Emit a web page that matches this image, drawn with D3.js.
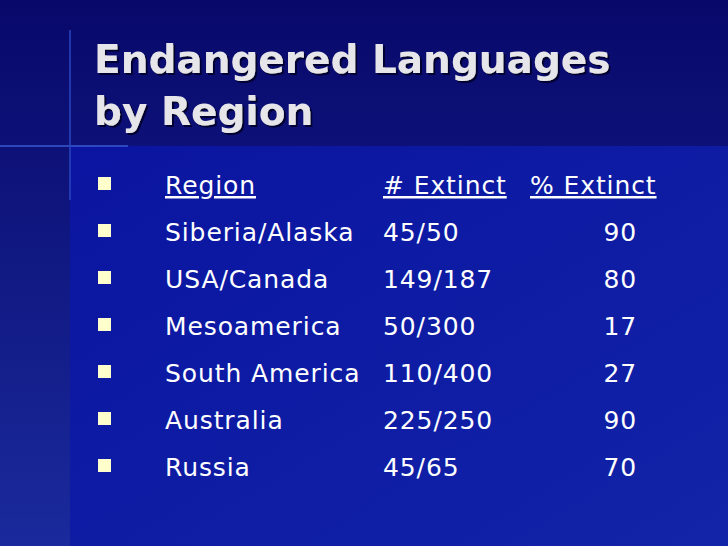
<!DOCTYPE html>
<html><head><meta charset="utf-8">
<script src="https://cdn.jsdelivr.net/npm/d3@7"></script>
<style>body{margin:0;background:#0a0c70}</style>
</head><body>
<script>
const titleLines = ["Endangered Languages", "by Region"];
const headers = ["Region", "# Extinct", "% Extinct"];
const regions = ["Siberia/Alaska", "USA/Canada", "Mesoamerica", "South America", "Australia", "Russia"];
const extinct = ["45/50", "149/187", "50/300", "110/400", "225/250", "45/65"];
const pctExtinct = [90, 80, 17, 27, 90, 70];

const W = 728, H = 546;
const svg = d3.select("body").append("svg").attr("width", W).attr("height", H);
const defs = svg.append("defs");
const g = defs.append("linearGradient").attr("id", "bg").attr("x1", 0).attr("y1", 0).attr("x2", 0).attr("y2", 1);
g.append("stop").attr("offset", "0").attr("stop-color", "#08086a");
g.append("stop").attr("offset", "1").attr("stop-color", "#1a2a9c");
svg.append("rect").attr("width", W).attr("height", H).attr("fill", "url(#bg)");
// lighter body area below the title
const g2 = defs.append("linearGradient").attr("id", "bg2").attr("x1", 0).attr("y1", 0).attr("x2", 1).attr("y2", 1);
g2.append("stop").attr("offset", "0").attr("stop-color", "#0a14a0");
g2.append("stop").attr("offset", "1").attr("stop-color", "#1224a8");
svg.append("rect").attr("x", 70).attr("y", 146).attr("width", W - 70).attr("height", H - 146).attr("fill", "url(#bg2)");
defs.append("filter").attr("id", "shadow")
  .append("feDropShadow").attr("dx", 2).attr("dy", 2).attr("stdDeviation", 0.6).attr("flood-color", "#000030");

// decorative cross lines
svg.append("line").attr("x1", 0).attr("x2", 128).attr("y1", 146).attr("y2", 146)
  .attr("stroke", "#3a5ad0").attr("stroke-width", 1.5);
svg.append("line").attr("x1", 70).attr("x2", 70).attr("y1", 30).attr("y2", 200)
  .attr("stroke", "#2a46c0").attr("stroke-width", 1.5);

const font = "Verdana, 'DejaVu Sans', sans-serif";
const t = svg.append("g").attr("filter", "url(#shadow)");
titleLines.forEach((s, i) => {
  t.append("text").attr("x", 94).attr("y", 73 + i * 52).attr("fill", "#e6e6ea")
    .attr("font-family", font).attr("font-weight", "bold").attr("font-size", 39).text(s);
});

const y = d3.scalePoint().domain(d3.range(regions.length + 1)).range([194, 476]);
const rows = [headers].concat(regions.map((r, i) => [r, extinct[i], pctExtinct[i]]));

const body = svg.append("g").attr("font-family", font).attr("font-size", 25)
  .attr("letter-spacing", 0.9).attr("fill", "#fff");
rows.forEach((r, i) => {
  body.append("rect").attr("x", 98).attr("y", y(i) - 17).attr("width", 13).attr("height", 13).attr("fill", "#ffffcc");
  const a = body.append("text").attr("x", 165).attr("y", y(i)).text(r[0]);
  const b = body.append("text").attr("x", 383).attr("y", y(i)).text(r[1]);
  const c = i === 0
    ? body.append("text").attr("x", 530).attr("y", y(i)).text(r[2])
    : body.append("text").attr("x", 637).attr("y", y(i)).attr("text-anchor", "end").text(r[2]);
  if (i === 0) [a, b, c].forEach(e => e.attr("text-decoration", "underline"));
});
</script>
</body></html>
